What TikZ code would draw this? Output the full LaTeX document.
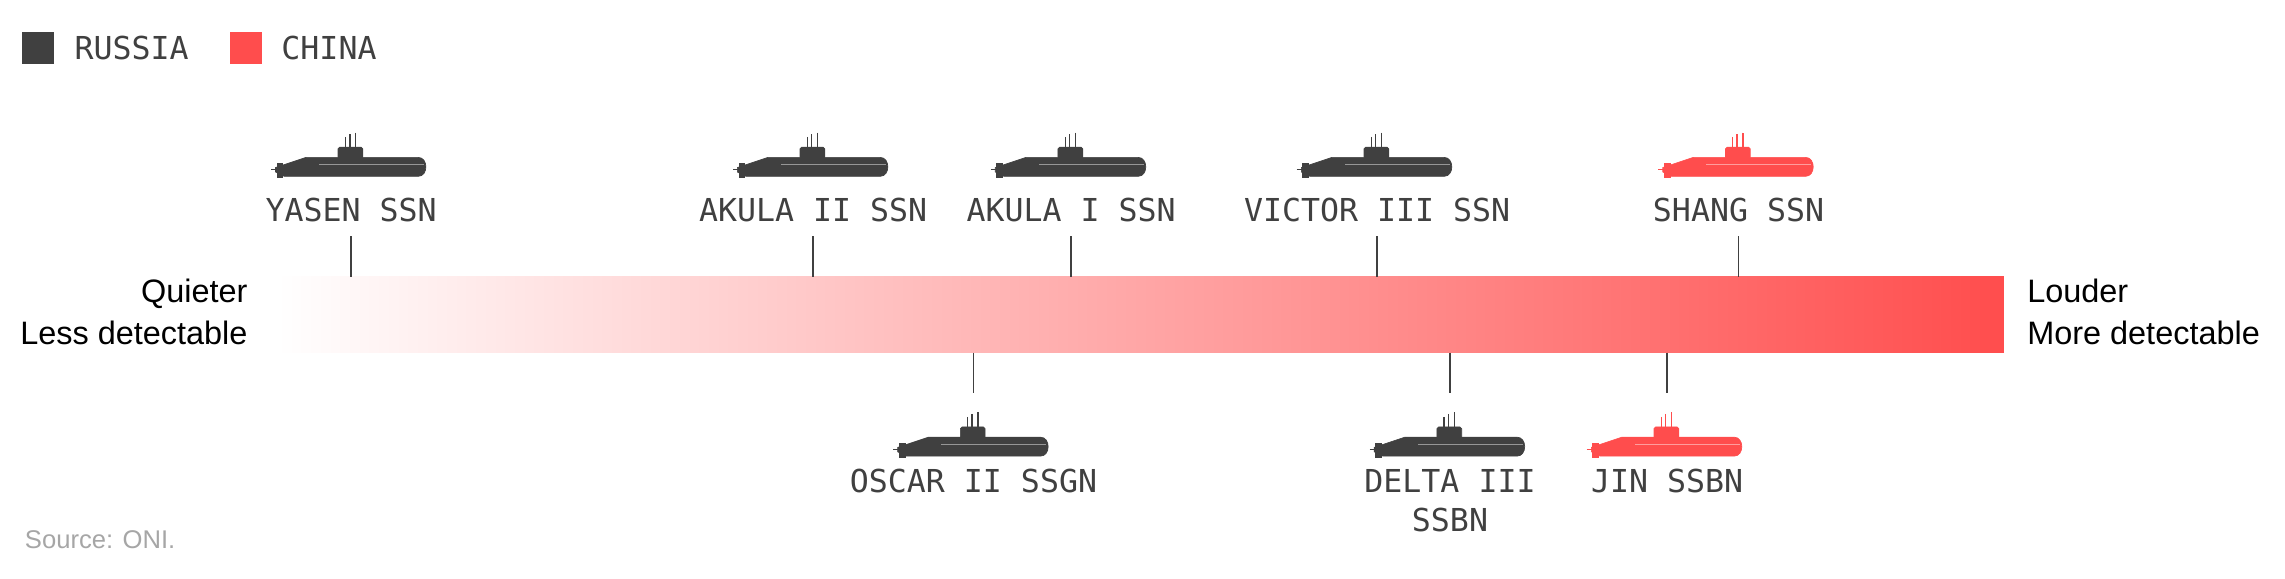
\documentclass[tikz,border=0pt]{standalone}
\usepackage{fontspec}
\setmainfont{Liberation Sans}
\newfontfamily\monof{DejaVu Sans Mono}
\definecolor{rus}{HTML}{404040}
\definecolor{chn}{HTML}{FF4D4D}
\begin{document}
\begin{tikzpicture}[x=0.03cm,y=-0.03cm,
  lbl/.style={font=\monof\fontsize{18.5}{23}\selectfont, text=rus, align=center},
  side/.style={font=\fontsize{19}{25}\selectfont, align=left},
  tick/.style={draw=rus, line width=1pt},
  sub/.pic={
    \fill[pic actions] (-29,-13) -- (48,-13) .. controls (55,-13) and (55,0) .. (48,0) -- (-44,0) -- (-50,-3) -- (-50,-6) -- (-44,-8) -- cycle;
    \fill[pic actions] (-49,-9) rectangle (-45,1);
    \draw[pic actions, line width=0.8pt] (-53,-4.5) -- (-49,-4.5);
    \fill[pic actions, rounded corners=1pt] (-7,-12) rectangle (10,-20);
    \foreach \m/\h in {-2/27,1/29,5/30} \draw[pic actions, line width=0.9pt] (\m,-19) -- (\m,-\h);
    \draw[white, opacity=0.45, line width=0.7pt] (-20,-8) -- (52,-8);
  }]
\useasboundingbox (0,0) rectangle (1568,397);
% legend
\fill[rus] (15,22) rectangle (37,44);
\node[lbl, anchor=west] (lr) at (47,33) {RUSSIA};
\fill[chn] (158,22) rectangle (180,44);
\node[lbl, anchor=west] (lc) at (189,33) {CHINA};
% bar
\shade[left color=white, right color=chn] (190,190) rectangle (1375,242);
\node[side, anchor=north east, align=right] (q) at (174,187) {Quieter\\Less detectable};
\node[side, anchor=north west] (l) at (1387,187) {Louder\\More detectable};
% top subs
\foreach \x/\t/\c [count=\i] in {241/YASEN SSN/rus,558/AKULA II SSN/rus,735/AKULA I SSN/rus,945/VICTOR III SSN/rus,1193/SHANG SSN/chn}{
  \pic[fill=\c, draw=\c] at (\x-2,121) {sub};
  \node[lbl] (t\i) at (\x,144) {\t};
  \coordinate (c\i) at (\x,162);
  \draw[tick] (c\i) -- (\x,190);
}
% bottom subs
\foreach \x/\t/\c [count=\i] in {668/OSCAR II SSGN/rus,995/DELTA III\\SSBN/rus,1144/JIN SSBN/chn}{
  \coordinate (d\i) at (\x,270);
  \draw[tick] (\x,242) -- (d\i);
  \pic[fill=\c, draw=\c] at (\x-2,313) {sub};
  \node[lbl, anchor=north] (b\i) at (\x,318) {\t};
}
\node[anchor=west, text=gray!70, font=\fontsize{15}{18}\selectfont] (src) at (13,370) {Source: ONI.};
\end{tikzpicture}
\end{document}
